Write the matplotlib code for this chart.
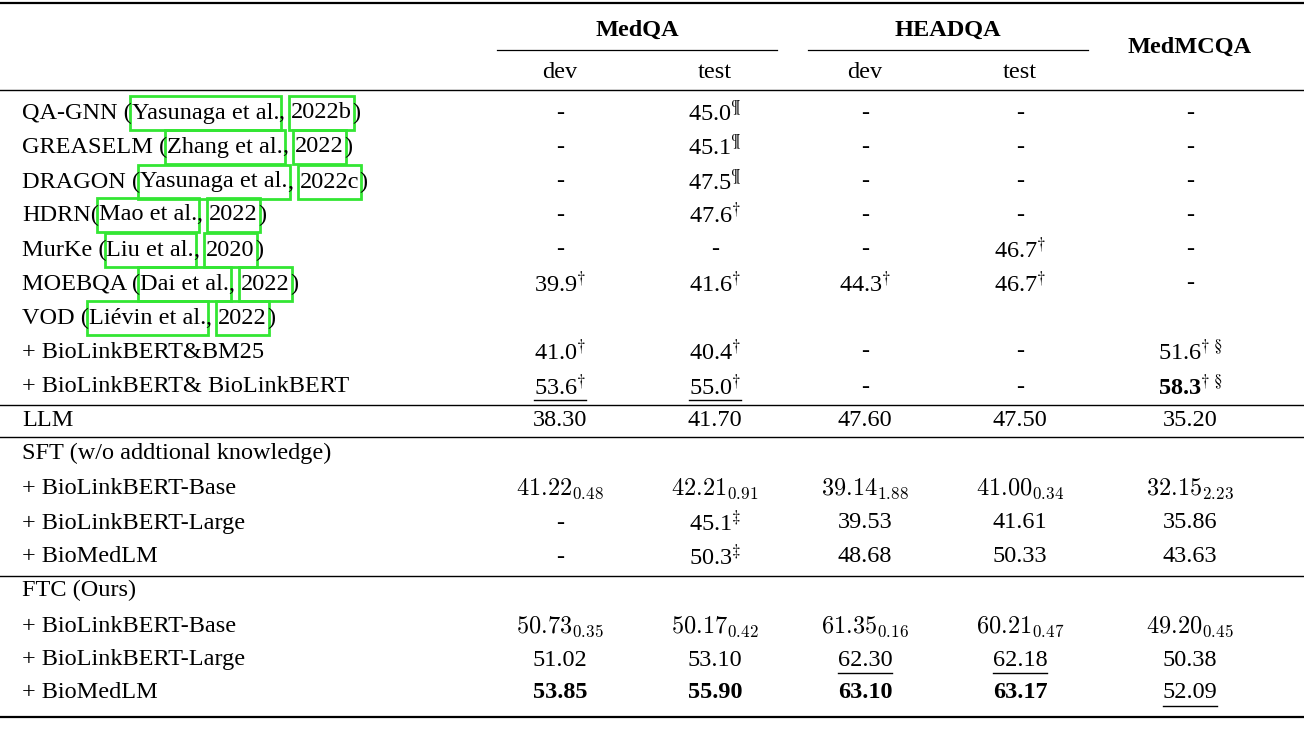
import matplotlib.pyplot as plt

plt.rcParams['font.family'] = ['Liberation Serif', 'DejaVu Serif']
FS = 17.5

# row labels: plain segments and (text, True) for boxed citation pieces
row_labels = [
    ["QA-GNN (", ("Yasunaga et al.", 1), ", ", ("2022b", 1), ")"],
    ["GREASELM (", ("Zhang et al.", 1), ", ", ("2022", 1), ")"],
    ["DRAGON (", ("Yasunaga et al.", 1), ", ", ("2022c", 1), ")"],
    ["HDRN(", ("Mao et al.", 1), ", ", ("2022", 1), ")"],
    ["MurKe (", ("Liu et al.", 1), ", ", ("2020", 1), ")"],
    ["MOEBQA (", ("Dai et al.", 1), ", ", ("2022", 1), ")"],
    ["VOD (", ("Liévin et al.", 1), ", ", ("2022", 1), ")"],
    ["+ BioLinkBERT&BM25"],
    ["+ BioLinkBERT& BioLinkBERT"],
    ["LLM"],
    ["SFT (w/o addtional knowledge)"],
    ["+ BioLinkBERT-Base"],
    ["+ BioLinkBERT-Large"],
    ["+ BioMedLM"],
    ["FTC (Ours)"],
    ["+ BioLinkBERT-Base"],
    ["+ BioLinkBERT-Large"],
    ["+ BioMedLM"],
]
row_y = [113, 147, 182, 215, 250, 284, 318, 352, 387, 420, 453, 489, 523, 557, 590, 627, 660, 693]

# cell syntax: "**" bold, "__" underline, "^" superscript, "_" subscript
medqa_dev = ["-", "-", "-", "-", "-", "39.9^†", "", "41.0^†", "__53.6^†", "38.30", "",
             "41.22_0.48", "-", "-", "", "50.73_0.35", "51.02", "**53.85"]
medqa_test = ["45.0^¶", "45.1^¶", "47.5^¶", "47.6^†", "-", "41.6^†", "", "40.4^†", "__55.0^†", "41.70", "",
              "42.21_0.91", "45.1^‡", "50.3^‡", "", "50.17_0.42", "53.10", "**55.90"]
headqa_dev = ["-", "-", "-", "-", "-", "44.3^†", "", "-", "-", "47.60", "",
              "39.14_1.88", "39.53", "48.68", "", "61.35_0.16", "__62.30", "**63.10"]
headqa_test = ["-", "-", "-", "-", "46.7^†", "46.7^†", "", "-", "-", "47.50", "",
               "41.00_0.34", "41.61", "50.33", "", "60.21_0.47", "__62.18", "**63.17"]
medmcqa = ["-", "-", "-", "-", "-", "-", "", "51.6^†§", "**58.3^†§", "35.20", "",
           "32.15_2.23", "35.86", "43.63", "", "49.20_0.45", "50.38", "__52.09"]
columns = [medqa_dev, medqa_test, headqa_dev, headqa_test, medmcqa]
col_x = [560, 715, 865, 1020, 1190]

fig = plt.figure(figsize=(13.04, 7.38), dpi=100)
ax = fig.add_axes([0, 0, 1, 1])
ax.set_xlim(0, 1304)
ax.set_ylim(738, 0)
ax.axis('off')
r = fig.canvas.get_renderer()

# rules
for y, lw in [(3, 1.6), (90, 1.0), (405, 1.0), (437, 1.0), (576, 1.0), (717, 1.6)]:
    ax.plot([0, 1304], [y, y], color='black', lw=lw)
ax.plot([497, 777], [50, 50], color='black', lw=0.9)
ax.plot([808, 1088], [50, 50], color='black', lw=0.9)

# header
for txt, x in [("MedQA", 637), ("HEADQA", 948)]:
    ax.text(x, 30, txt, ha='center', va='center', fontsize=FS, fontweight='bold')
ax.text(1190, 47, "MedMCQA", ha='center', va='center', fontsize=FS, fontweight='bold')
for x, txt in zip(col_x[:4], ["dev", "test", "dev", "test"]):
    ax.text(x, 73, txt, ha='center', va='center', fontsize=FS)

# row labels
for segs, y in zip(row_labels, row_y):
    x = 22
    for s in segs:
        boxed = isinstance(s, tuple)
        s = s[0] if boxed else s
        t = ax.text(x, y, s, ha='left', va='center', fontsize=FS)
        bb = t.get_window_extent(r)
        if boxed:
            ax.add_patch(plt.Rectangle((bb.x0 - 2, y - 17), bb.width + 4, 34,
                                       fill=False, edgecolor='#33e633', lw=2))
        x += bb.width

# cells
for col, x in zip(columns, col_x):
    for cell, y in zip(col, row_y):
        if not cell:
            continue
        bold = cell.startswith("**")
        under = cell.startswith("__")
        c = cell.lstrip("*_") if (bold or under) else cell
        kw = dict(ha='center', va='center', fontsize=FS,
                  fontweight='bold' if bold else 'normal')
        if "_" in c:
            main, sub = c.split("_")
            s = r'$%s_{%s}$' % (main, sub)
            kw['math_fontfamily'] = 'cm'
        elif "^" in c:
            main, sup = c.split("^")
            sup = (sup.replace("†", r"\dagger").replace("‡", r"\ddagger")
                   .replace("¶", r"\P").replace("§", r"\ \S"))
            s = main + r'$^{%s}$' % sup
            kw['math_fontfamily'] = 'stix'
        else:
            s = c
        t = ax.text(x, y, s, **kw)
        if under:
            bb = t.get_window_extent(r)
            ax.plot([bb.x0, bb.x1], [y + 13, y + 13], color='black', lw=1)

fig.savefig("out.png", dpi=100)
